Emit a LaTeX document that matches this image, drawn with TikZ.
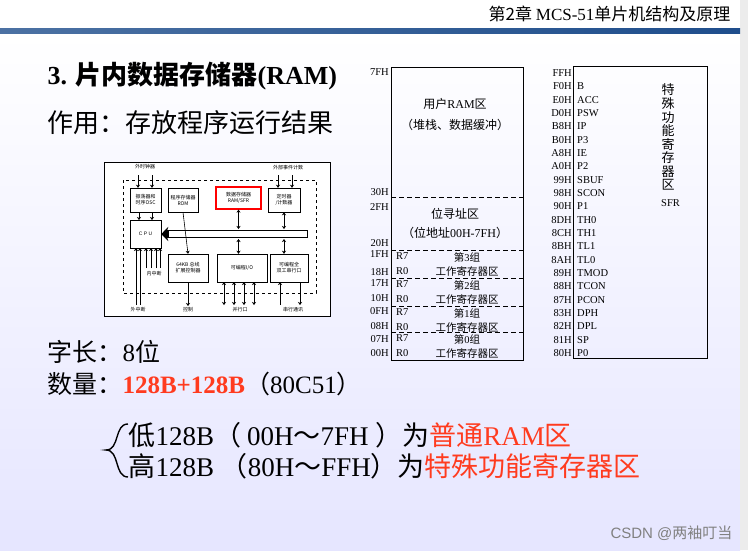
\documentclass[tikz,border=0pt]{standalone}
\usepackage{fontspec}
\setmainfont{Liberation Serif}
\newfontfamily\cjk{Noto Sans CJK SC}
\newfontfamily\lsans{Liberation Sans}
\usetikzlibrary{arrows.meta,calc}
\definecolor{hdrblue}{HTML}{1F4E8C}
\definecolor{redt}{HTML}{FF3B1F}
\begin{document}
\begin{tikzpicture}[x=1pt,y=-1pt,
  fs/.style={font=\fontsize{#1}{#1}\selectfont},
  blk/.style={draw,line width=0.5pt,fill=white,align=center,inner sep=0pt,font=\cjk\fontsize{5}{6}\selectfont},
  bar/.style={-{Stealth[length=3pt,width=4pt]},line width=0.6pt},
  dbar/.style={{Stealth[length=3pt,width=4pt]}-{Stealth[length=3pt,width=4pt]},line width=0.6pt},
  addr/.style={anchor=east,inner sep=1pt,font=\fontsize{10.5}{10.5}\selectfont},
  reg/.style={anchor=west,inner sep=1pt,font=\fontsize{10.5}{10.5}\selectfont},
  mtxt/.style={font=\cjk\fontsize{#1}{#1}\selectfont},
  mtxt/.default=10.5,
  dline/.style={dashed,line width=0.9pt,dash pattern=on 5pt off 3pt}]
\useasboundingbox (0,0) rectangle (748,550);
\shade[top color=white,bottom color=blue!10] (0,33) rectangle (740,550);
\fill[gray!15] (740,0) rectangle (748,550);
% header
\shade[left color=hdrblue!80,right color=hdrblue] (0,28) rectangle (740,33);
\node[anchor=east,fs=17] (hdr) at (734,14) {\cjk 第2章 \rmfamily MCS-51\cjk 单片机结构及原理};
% titles
\node[anchor=west,font=\bfseries\fontsize{26}{26}\selectfont] (t1) at (44,76) {3. {\cjk\bfseries 片内数据存储器}(RAM)};
\node[anchor=west,fs=26] (t2) at (44,123) {\cjk 作用：存放程序运行结果};
% block diagram
\draw[line width=0.8pt,fill=white] (104,162) rectangle (330,316);
\draw[dashed,line width=0.5pt] (123,180) rectangle (316,293);
\node[blk,minimum width=31,minimum height=24] (osc) at (145.5,200) {振荡器和\\时序OSC};
\node[blk,minimum width=30,minimum height=24] (rom) at (183,200) {程序存储器\\ROM};
\node[blk,draw=red,line width=1.2pt,minimum width=45,minimum height=22] (ram) at (238.5,198) {数据存储器\\RAM/SFR};
\node[blk,minimum width=32,minimum height=24] (tmr) at (284,200) {定时器\\/计数器};
\node[blk,minimum width=31,minimum height=28,font=\lsans\fontsize{5}{6}\selectfont] (cpu) at (145.5,234) {C P U};
\node[blk,minimum width=40,minimum height=28] (ext) at (188,268) {64KB 总线\\扩展控制器};
\node[blk,minimum width=50,minimum height=28] (pio) at (242,268) {可编程I/O};
\node[blk,minimum width=38,minimum height=28] (sio) at (289,268) {可编程全\\双工串行口};
\coordinate (busR) at (308,234);
\draw[-{Stealth[length=7pt,width=14pt]},line width=8pt,draw=black] (busR) -- (cpu.east);
\draw[line width=6pt,draw=white] ($(busR)+(-0.8,0)$) -- ($(cpu.east)+(8,0)$);
\draw[bar] (rom.south) -- (ext.north);
\draw[dbar] (ram.south) -- (ram.south |- 0,229);
\draw[dbar] (ram.south |- 0,239) -- (pio.north -| ram.south);
\draw[dbar] (tmr.south) -- (tmr.south |- 0,229);
\draw[dbar] (tmr.south |- 0,239) -- (sio.north -| tmr.south);
\draw[bar] (139,212) -- (139,220);
\draw[bar] (152,212) -- (152,220);
\foreach \x in {146,151,156,160} \draw[bar] (\x,268) -- (\x,248);
\foreach \x in {136,140} \draw[bar] (\x,305) -- (\x,248);
\draw[bar] (138,175) -- (osc.north -| 138,0);
\draw[bar] (152,175) -- (osc.north -| 152,0);
\draw[bar] (278,175) -- (tmr.north -| 278,0);
\draw[bar] (292,175) -- (tmr.north -| 292,0);
\draw[bar] (ext.south) -- (188,306);
\foreach \x in {224,234,244,254} \draw[dbar] (\x,282) -- (\x,305);
\draw[bar] (280,305) -- (280,282);
\draw[bar] (300,282) -- (300,305);
\node[mtxt=5] (l1) at (145,167) {外时钟器};
\node[mtxt=5] (l2) at (288,168) {外部事件计数};
\node[mtxt=5] (l3) at (154,274) {内中断};
\node[mtxt=5] (l4) at (138,310) {外中断};
\node[mtxt=5] (l5) at (188,310) {控制};
\node[mtxt=5] (l6) at (240,310) {并行口};
\node[mtxt=5] (l7) at (293,310) {串行通讯};
% lower text
\node[anchor=west,fs=25] (w1) at (44,352) {\cjk 字长：\rmfamily 8\cjk 位};
\node[anchor=west,fs=25] (w2) at (44,384) {\cjk 数量：\textcolor{redt}{\rmfamily\bfseries 128B+128B}\cjk（\rmfamily 80C51\cjk）};
\node[anchor=west,fs=27] (b1) at (125,435) {\cjk 低\rmfamily 128B\cjk（ \rmfamily 00H\cjk ～\rmfamily 7FH \cjk）为\textcolor{redt}{普通\rmfamily RAM\cjk 区}};
\node[anchor=west,fs=27] (b2) at (125,466) {\cjk 高\rmfamily 128B \cjk（\rmfamily 80H\cjk ～\rmfamily FFH\cjk）为\textcolor{redt}{特殊功能寄存器区}};
\draw[line width=1.4pt] (128,424) .. controls (114,424) and (120,450) .. (106,450) .. controls (120,450) and (114,477) .. (128,477);
\node[anchor=east,text=gray,fs=15] (wm) at (736,533) {\lsans CSDN @\cjk 两袖叮当};
% left memory map
\draw[line width=1pt] (391,67) rectangle (523,360);
\foreach \y/\t in {72/7FH,192/30H,207/2FH,243/20H,254/1FH,272/18H,283/17H,298/10H,311/0FH,326/08H,339/07H,353/00H}
  \node[addr] at (390,\y) {\t};
\foreach \y in {197,250,278,306,332} \draw[dline] (391,\y) -- (523,\y);
\node[mtxt=12] (u1) at (455,104) {用户\rmfamily RAM\cjk 区};
\node[mtxt=12] (u2) at (455,125) {（堆栈、数据缓冲）};
\node[mtxt=12] (u3) at (455,214) {位寻址区};
\node[mtxt=12] (u4) at (455,233) {（位地址\rmfamily 00H-7FH\cjk ）};
\foreach \y/\g in {250/3,278/2,306/1,332/0}{
  \node[reg] at (395,\y+6) {R7};
  \node[reg] at (395,\y+21) {R0};
  \node[mtxt] at (467,\y+7) {第\rmfamily\g\cjk 组};
  \node[mtxt] at (467,\y+21) {工作寄存器区};
}
% right memory map
\draw[line width=1pt] (573,66) rectangle (707,358);
\foreach \t/\r [count=\i from 0] in {FFH/,F0H/B,E0H/ACC,D0H/PSW,B8H/IP,B0H/P3,A8H/IE,A0H/P2,99H/SBUF,98H/SCON,90H/P1,8DH/TH0,8CH/TH1,8BH/TL1,8AH/TL0,89H/TMOD,88H/TCON,87H/PCON,83H/DPH,82H/DPL,81H/SP,80H/P0}{
  \node[addr] at (573,73+\i*13.33) {\t};
  \node[reg] at (576,73+\i*13.33) {\r};
}
\foreach \c [count=\i from 0] in {特,殊,功,能,寄,存,器,区}
  \node[mtxt=13] at (668,90+\i*13.6) {\c};
\node[reg] at (660,203) {SFR};
\end{tikzpicture}
\end{document}
